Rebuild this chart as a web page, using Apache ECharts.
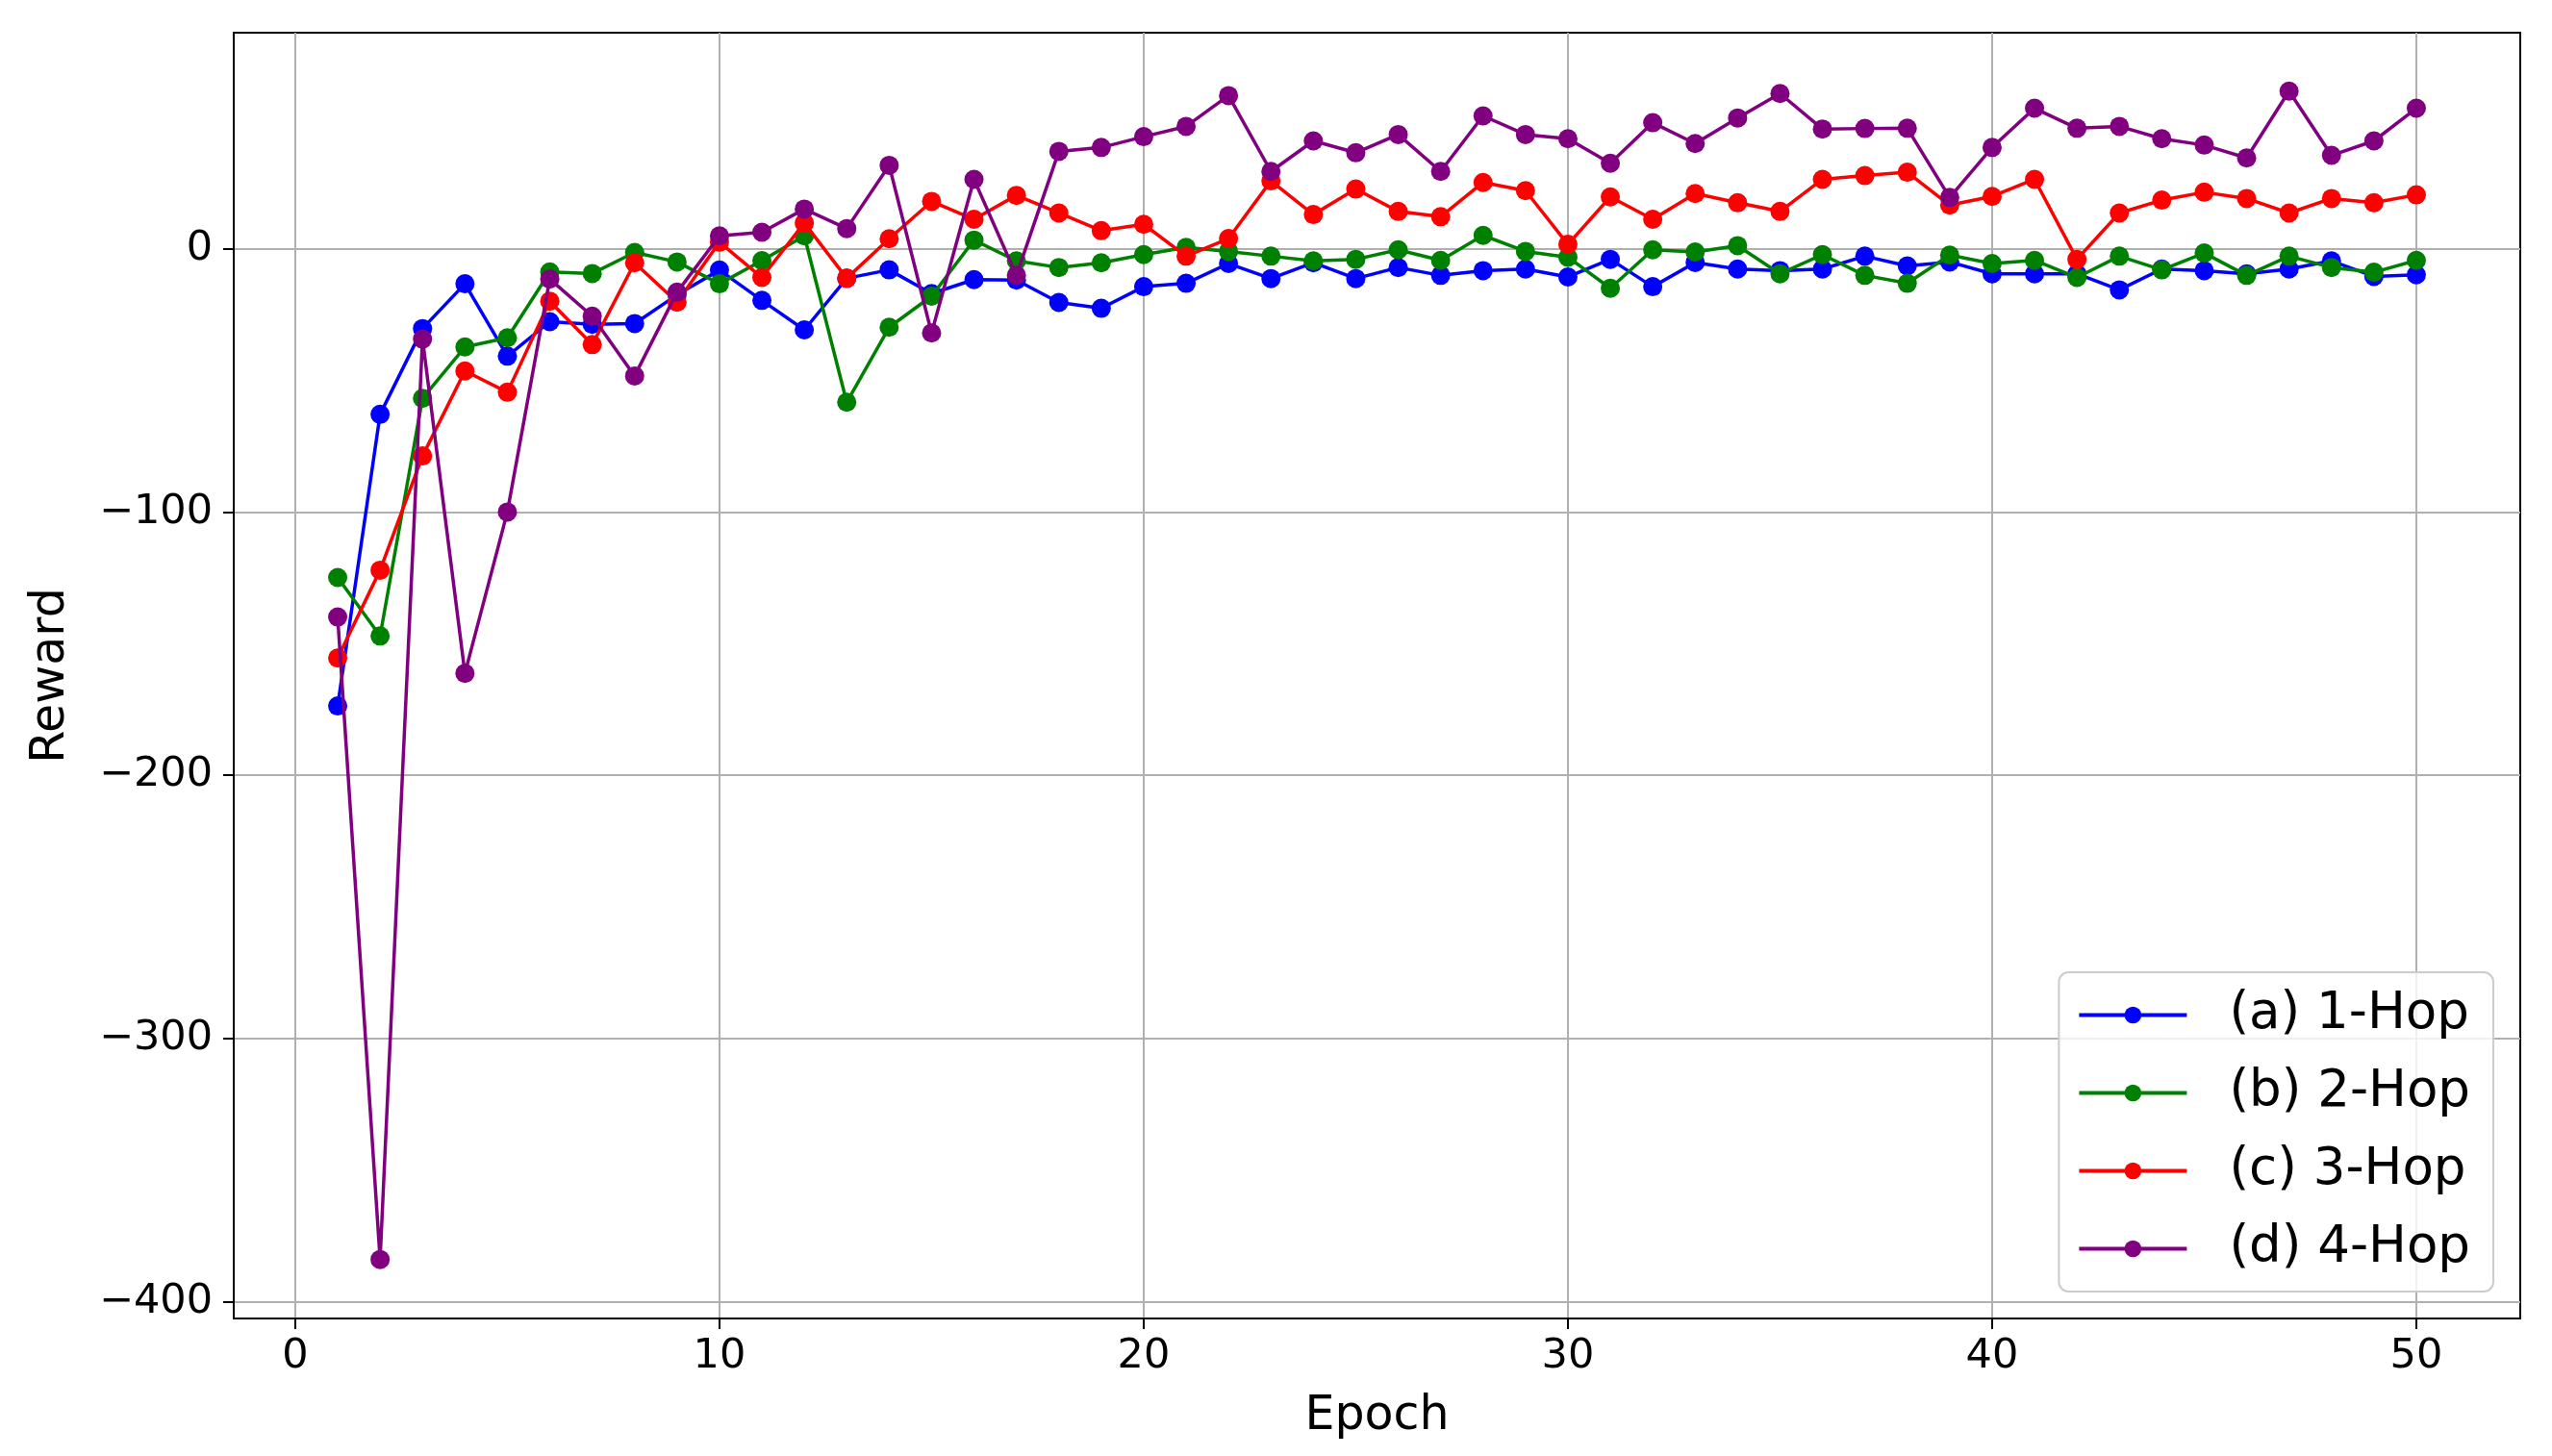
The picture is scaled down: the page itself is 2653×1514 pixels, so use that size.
<!DOCTYPE html>
<html>
<head>
<meta charset="utf-8">
<script src="https://cdn.jsdelivr.net/npm/echarts@6/dist/echarts.min.js"></script>
<style>html,body{margin:0;padding:0;background:#fff}#c{width:2653px;height:1514px}</style>
</head>
<body>
<div id="c"></div>
<script>
const epochs = [1,2,3,4,5,6,7,8,9,10,11,12,13,14,15,16,17,18,19,20,21,22,23,24,25,26,27,28,29,30,31,32,33,34,35,36,37,38,39,40,41,42,43,44,45,46,47,48,49,50];
const hop1 = [-173.7,-62.9,-30.3,-13.3,-40.8,-27.7,-28.7,-28.4,-17.5,-8.1,-19.6,-30.8,-11.2,-8.0,-17.0,-11.7,-11.9,-20.4,-22.6,-14.4,-13.1,-5.6,-11.3,-5.3,-11.3,-7.1,-10.1,-8.3,-7.7,-10.7,-4.0,-14.4,-5.2,-7.7,-8.3,-7.7,-2.8,-6.5,-5.0,-9.5,-9.5,-9.5,-15.6,-7.7,-8.3,-9.5,-7.7,-4.6,-10.5,-9.9];
const hop2 = [-124.9,-147.1,-56.8,-37.3,-33.8,-8.8,-9.4,-1.4,-5.0,-13.3,-4.5,4.9,-58.3,-29.8,-18.0,3.3,-4.6,-7.1,-5.3,-2.2,0.5,-1.0,-2.8,-4.6,-4.0,-0.4,-4.4,5.1,-1.0,-3.2,-15.0,-0.4,-1.2,1.2,-9.5,-2.2,-10.1,-13.1,-2.4,-5.6,-4.4,-10.9,-2.8,-8.0,-1.6,-10.1,-2.8,-7.1,-8.9,-4.4];
const hop3 = [-155.5,-122.1,-78.7,-46.4,-54.5,-19.9,-36.4,-5.3,-20.3,2.5,-10.9,9.8,-11.2,3.8,18.0,11.2,20.3,13.6,6.9,9.3,-2.8,3.9,25.8,13.0,22.7,14.2,12.2,25.2,22.1,1.7,19.7,11.2,21.0,17.5,14.2,26.4,27.8,29.1,16.6,19.9,26.4,-4.0,13.6,18.5,21.5,19.1,13.6,19.1,17.5,20.5];
const hop4 = [-139.9,-384.0,-34.3,-161.3,-100.0,-11.5,-25.6,-48.3,-16.5,4.9,6.3,15.1,7.7,31.7,-32.0,26.4,-10.1,37.0,38.5,42.6,46.5,58.2,29.4,41.0,36.5,43.4,29.4,50.5,43.4,41.8,32.5,47.9,40.0,49.7,59.0,45.5,45.7,45.8,19.5,38.5,53.4,45.8,46.5,41.8,39.4,34.5,59.9,35.5,41.0,53.4];
const seriesNames = ['(a) 1-Hop','(b) 2-Hop','(c) 3-Hop','(d) 4-Hop'];
const seriesColors = ['#0000ff','#008000','#ff0000','#800080'];
const xTicks = [0,10,20,30,40,50];
const yTicks = [-400,-300,-200,-100,0];

const FONT = 'DejaVu Sans';
const allSeries = [hop1, hop2, hop3, hop4];
const chart = echarts.init(document.getElementById('c'), null, {renderer:'canvas'});
const fmtY = v => v < 0 ? '\u2212' + Math.abs(v) : String(v);
chart.setOption({
  animation: false,
  backgroundColor: '#ffffff',
  textStyle: {fontFamily: FONT},
  grid: {left: 243, top: 34, right: 33, bottom: 143, containLabel: false,
         show: true, borderColor: '#000', borderWidth: 2, backgroundColor: 'transparent'},
  legend: {
    right: 61, bottom: 171, orient: 'vertical',
    itemWidth: 112, itemHeight: 22, itemGap: 28,
    padding: [18, 24, 18, 19],
    backgroundColor: 'rgba(255,255,255,0.8)',
    borderColor: '#cccccc', borderWidth: 2, borderRadius: 10,
    lineStyle: {width: 4},
    textStyle: {fontFamily: FONT, fontSize: 53, color: '#000', lineHeight: 50, padding: [0,0,0,39]},
    data: seriesNames
  },
  xAxis: {
    type: 'value', min: -1.45, max: 52.45,
    name: 'Epoch', nameLocation: 'middle', nameGap: 78,
    nameTextStyle: {fontFamily: FONT, fontSize: 49, color: '#000'},
    axisLine: {show: true, onZero: false, lineStyle: {color: '#000', width: 2}},
    axisTick: {show: true, length: 11, lineStyle: {color: '#000', width: 2}, customValues: xTicks},
    axisLabel: {fontFamily: FONT, fontSize: 43, color: '#000', margin: 18, customValues: xTicks},
    splitLine: {show: true, lineStyle: {color: '#b0b0b0', width: 2}}
  },
  yAxis: {
    type: 'value', min: -406.4, max: 82.1,
    name: 'Reward', nameLocation: 'middle', nameGap: 165,
    nameTextStyle: {fontFamily: FONT, fontSize: 49, color: '#000'},
    axisLine: {show: true, onZero: false, lineStyle: {color: '#000', width: 2}},
    axisTick: {show: true, length: 11, lineStyle: {color: '#000', width: 2}, customValues: yTicks},
    axisLabel: {fontFamily: FONT, fontSize: 43, color: '#000', margin: 22, formatter: fmtY, customValues: yTicks},
    splitLine: {show: true, lineStyle: {color: '#b0b0b0', width: 2}}
  },
  series: allSeries.map((vals, i) => ({
    name: seriesNames[i], type: 'line',
    data: epochs.map((e, j) => [e, vals[j]]),
    symbol: 'circle', symbolSize: 20, showSymbol: true,
    color: seriesColors[i],
    itemStyle: {color: seriesColors[i]},
    lineStyle: {color: seriesColors[i], width: 3.5},
    z: 2 + i
  }))
});
</script>
</body>
</html>
